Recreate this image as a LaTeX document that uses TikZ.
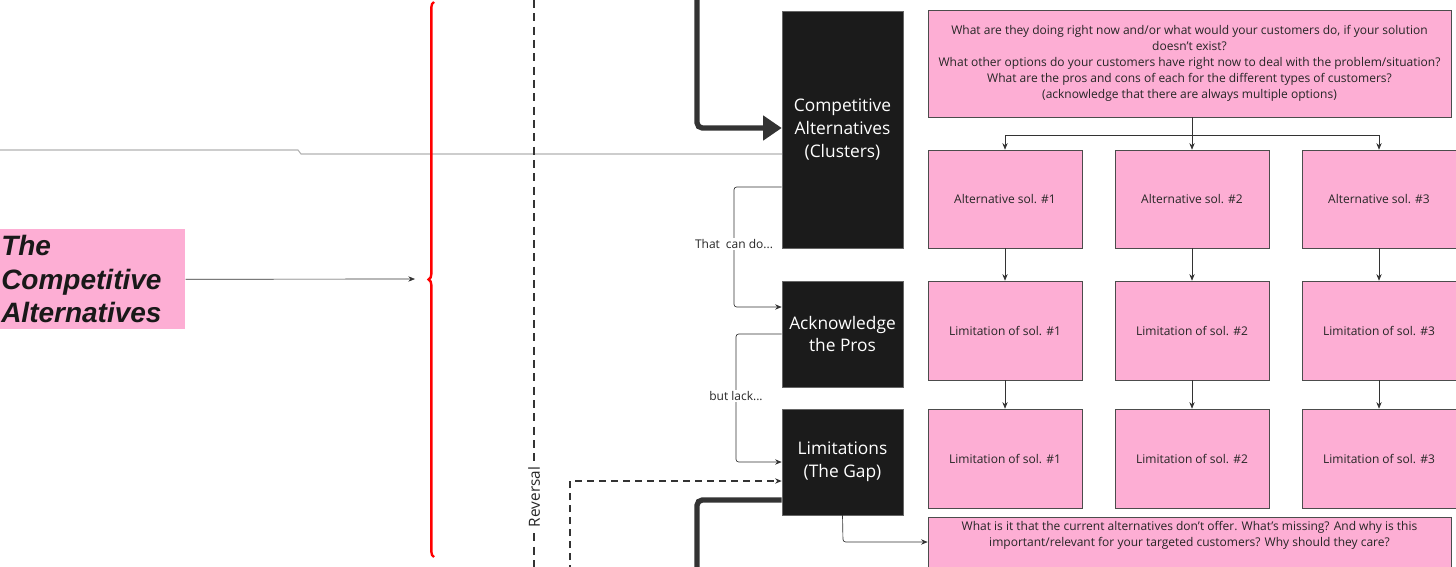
\documentclass[tikz,border=0pt]{standalone}
\usepackage{fontspec}
\setmainfont{Open Sans}
\newfontfamily\arialf{Liberation Sans}
\usetikzlibrary{arrows.meta,decorations.pathreplacing}
\definecolor{pk}{HTML}{FDAED4}
\definecolor{bk}{HTML}{1B1B1B}
\begin{document}
\begin{tikzpicture}[x=0.75pt,y=-0.75pt,
 blk/.style={fill=bk,draw=black!60,text=white,font=\fontsize{13}{17}\selectfont,align=center,inner sep=0},
 pnk/.style={fill=pk,draw=black!70,line width=0.4pt,font=\fontsize{9}{12}\selectfont,align=center,inner sep=0,text=black!85},
 thin/.style={draw=black!80,line width=0.5pt,-{Stealth[length=5pt,width=4pt]}},
 thick/.style={draw=black!80,line width=4pt,rounded corners=4pt},
 lab/.style={fill=white,font=\fontsize{9}{11}\selectfont,inner sep=1pt,text=black!85}]
\useasboundingbox (0,0) rectangle (1456,567);
% gray line
\draw[black!30,line width=0.8pt] (0,150) -- (298,150) -- (301,154) -- (782,154);
% title
\node[fill=pk,minimum width={185*0.75pt},minimum height={100*0.75pt},anchor=north west,inner sep=0] (t) at (0,229) {};
\node[anchor=west,align=left,font=\arialf\bfseries\itshape\fontsize{21}{25}\selectfont,text=black!90,inner sep=0] at (1,279) {The\\Competitive\\Alternatives};
\coordinate (bt) at (415,279);
\draw[thin] (t.east) -- (bt);
% brace
\draw[red,line width=1.8pt,decorate,decoration={brace,amplitude=4pt}] (434,557) -- (434,2);
% dashed reversal
\draw[black!80,line width=1.2pt,dash pattern=on 6pt off 4pt] (534,0) -- (534,567);
\node[rotate=90,fill=white,font=\fontsize{11.5}{13}\selectfont,inner sep=2pt,text=black!85] (rv) at (534,497) {Reversal};
% black boxes
\node[blk,minimum width={121*0.75pt},minimum height={237*0.75pt}] (c) at (842.5,129.5) {Competitive\\Alternatives\\(Clusters)};
\node[blk,minimum width={121*0.75pt},minimum height={106*0.75pt}] (a) at (842.5,334) {Acknowledge\\the Pros};
\node[blk,minimum width={121*0.75pt},minimum height={106*0.75pt}] (l) at (842.5,462) {Limitations\\(The Gap)};
% pink top
\node[pnk,minimum width={523*0.75pt},minimum height={107*0.75pt}] (q) at (1189.5,63.5) {What are they doing right now and/or what would your customers do, if your solution\\doesn't exist?\\What other options do your customers have right now to deal with the problem/situation?\\What are the pros and cons of each for the different types of customers?\\(acknowledge that there are always multiple options)};
\node[pnk,minimum width={523*0.75pt},minimum height={60*0.75pt},anchor=north] (g) at (1189.5,517) {What is it that the current alternatives don't offer. What's missing? And why is this\\important/relevant for your targeted customers? Why should they care?\\[8pt]};
% grid
\foreach \i/\x in {1/1005,2/1192,3/1379}{
 \node[pnk,minimum width={154*0.75pt},minimum height={98*0.75pt}] (s\i) at (\x,199) {Alternative sol. \#\i};
 \node[pnk,minimum width={154*0.75pt},minimum height={99*0.75pt}] (m\i) at (\x,330.5) {Limitation of sol. \#\i};
 \node[pnk,minimum width={154*0.75pt},minimum height={99*0.75pt}] (n\i) at (\x,458.5) {Limitation of sol. \#\i};
 \draw[thin] (s\i) -- (m\i);
 \draw[thin] (m\i) -- (n\i);
}
\draw[black!80,line width=0.5pt] (s2.north |- q.south) -- (1192,135);
\draw[black!80,line width=0.5pt] (1005,135) -- (1379,135);
\foreach \i in {1,2,3} \draw[thin] (s\i.north |- 0,135) -- (s\i.north);
% thick arrows
\coordinate (ts) at (697,-5);
\draw[thick,-{Triangle[length=14pt,width=18pt]}] (ts) |- (c.west |- 0,128);
\coordinate (bs) at (697,572);
\draw[thick] (bs) |- (l.west |- 0,500);
% dashed arrow
\coordinate (ds) at (570,572);
\draw[black!80,line width=0.8pt,dash pattern=on 5pt off 4pt,-{Stealth[length=5pt,width=4pt]}] (ds) |- (l.west |- 0,481);
% side connectors
\draw[thin,rounded corners=2pt] (c.west |- 0,187) -- (734,187) -- (734,307) -- (a.west |- 0,307);
\node[lab] at (734,244) {That\enspace can do...};
\draw[thin,rounded corners=2pt] (a.west |- 0,334) -- (736,334) -- (736,462) -- (l.west);
\node[lab] at (736,396) {but lack...};
\draw[thin,rounded corners=2pt] (l.south |- 0,515) -- (843,542) -- (g.west |- 0,542);
\end{tikzpicture}
\end{document}
